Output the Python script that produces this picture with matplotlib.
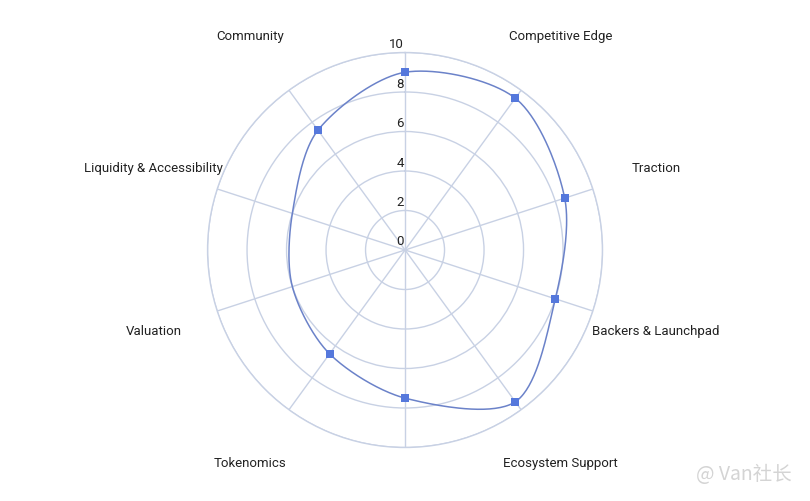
import numpy as np
import matplotlib.pyplot as plt
from matplotlib.transforms import offset_copy

# ten spokes, clockwise from the top; two spokes carry no label
categories = ['', 'Competitive Edge', 'Traction', 'Backers & Launchpad',
              'Ecosystem Support', '', 'Tokenomics', 'Valuation',
              'Liquidity & Accessibility', 'Community']
scores = [9, 9.5, 8.5, 8, 9.5, 7.5, 6.5, 6, 6, 7.5]
show_marker = [True, True, True, True, True, True, True, False, False, True]
r_ticks = [0, 2, 4, 6, 8, 10]

line_color = '#6B82C9'
point_color = '#5578DC'
grid_color = '#C8D1E4'
text_color = '#222222'


def closed_spline(xs, ys, t=0.3, n=40):
    """Closed bezier spline through the points (chart.js style tension)."""
    pts = np.column_stack([xs, ys])
    k = len(pts)
    cp_prev = np.zeros_like(pts)
    cp_next = np.zeros_like(pts)
    for i in range(k):
        p0, p1, p2 = pts[i - 1], pts[i], pts[(i + 1) % k]
        d01 = np.hypot(*(p1 - p0))
        d12 = np.hypot(*(p2 - p1))
        s01 = d01 / (d01 + d12)
        s12 = d12 / (d01 + d12)
        cp_prev[i] = p1 - t * s01 * (p2 - p0)
        cp_next[i] = p1 + t * s12 * (p2 - p0)
    u = np.linspace(0, 1, n)[:, None]
    out = []
    for i in range(k):
        a, b = pts[i], cp_next[i]
        c, d = cp_prev[(i + 1) % k], pts[(i + 1) % k]
        seg = (1 - u)**3 * a + 3 * (1 - u)**2 * u * b + 3 * (1 - u) * u**2 * c + u**3 * d
        out.append(seg if i == 0 else seg[1:])
    return np.vstack(out)


plt.rcParams['font.family'] = ['Roboto', 'DejaVu Sans']

fig = plt.figure(figsize=(8.1, 5.01), dpi=100)
ax = fig.add_axes([0.2562, 0.1068, 0.4877, 0.7884], projection='polar')
ax.set_theta_zero_location('N')
ax.set_theta_direction(-1)

n = len(categories)
angles = np.arange(n) * 2 * np.pi / n
vals = np.array(scores, dtype=float)

# smooth outline, computed in x/y then mapped back to polar
xs = vals * np.sin(angles)
ys = vals * np.cos(angles)
curve = closed_spline(xs, ys, t=0.3)
th = np.unwrap(np.arctan2(curve[:, 0], curve[:, 1]))
rr = np.hypot(curve[:, 0], curve[:, 1])
ax.plot(th, rr, color=line_color, lw=1.1, zorder=3)

mask = np.array(show_marker)
ax.plot(angles[mask], vals[mask], linestyle='none', marker='s', ms=5.5,
        mew=0, color=point_color, zorder=4)

# grid
ax.set_ylim(0, 10)
ax.set_yticks(r_ticks[1:])
ax.set_yticklabels([])
ax.set_xticks(angles)
ax.set_xticklabels([])
ax.grid(color=grid_color, linewidth=1.0)
ax.spines['polar'].set_color(grid_color)
ax.spines['polar'].set_linewidth(1.0)
ax.tick_params(length=0)

# radial tick labels, just above each ring, left of the top spoke
tick_tr = offset_copy(ax.transData, fig=fig, x=-1, y=8, units='dots')
for r in r_ticks:
    ax.text(0, r, str(r), transform=tick_tr, ha='right', va='center',
            fontsize=9.5, color=text_color, zorder=5)

# category labels
for a, name in zip(angles, categories):
    if name:
        ax.text(a, 13.37, name, ha='center', va='center', fontsize=9.5,
                color=text_color, clip_on=False)

# watermark
fig.text(0.918, 0.052, '@ Van社长', ha='center', va='center', fontsize=14,
         color='#D4D4D4', family=['Noto Sans CJK SC', 'DejaVu Sans'])

fig.savefig('out.png', dpi=100, facecolor='white')
